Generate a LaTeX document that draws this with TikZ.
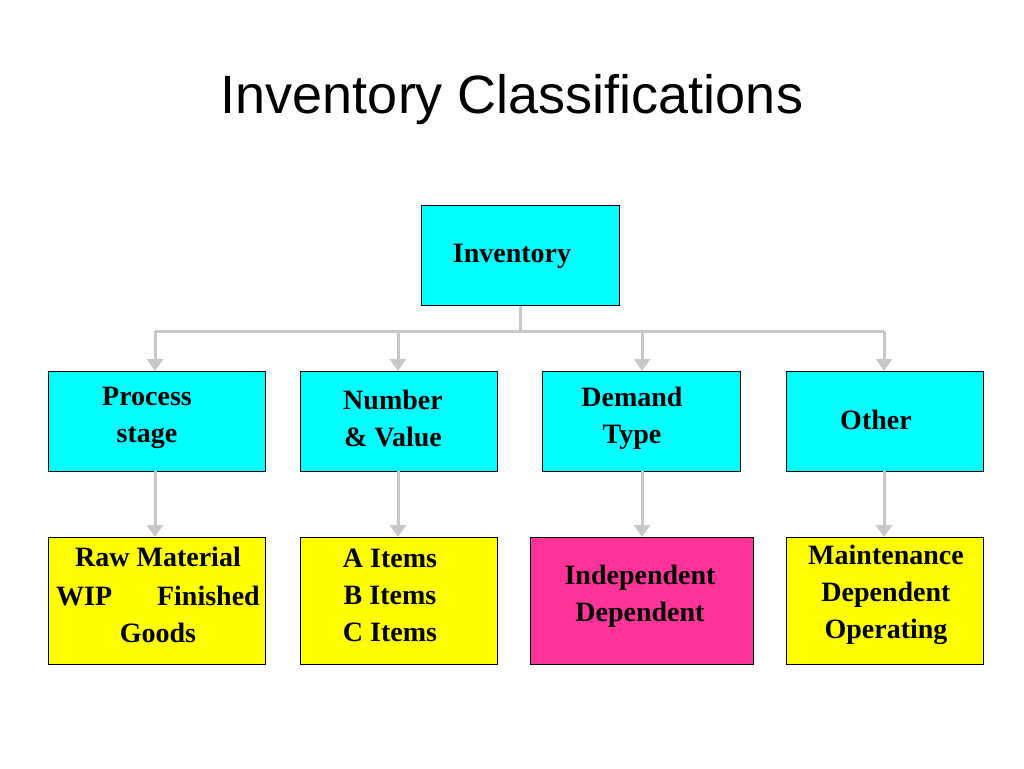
\documentclass[tikz,border=0pt]{standalone}
\usepackage{fontspec}
\setmainfont{Liberation Serif}
\newfontfamily\titlefont{Liberation Sans}
\usetikzlibrary{arrows.meta}
\definecolor{cy}{HTML}{00FFFF}
\definecolor{yl}{HTML}{FFFF00}
\definecolor{pk}{HTML}{FF3399}
\definecolor{ln}{HTML}{C8C8C8}
\begin{document}
\begin{tikzpicture}[x=1pt,y=-1pt,
  box/.style={draw=black,line width=0.8pt,anchor=north west,inner sep=0pt},
  lbl/.style={font=\fontsize{28}{37}\selectfont\bfseries,align=center,inner sep=0pt},
  conn/.style={draw=ln,line width=3pt,-{Triangle[length=12pt,width=16pt]}}]
\useasboundingbox[fill=white] (0,0) rectangle (1024,768);
\node[font=\titlefont\fontsize{54}{60}\selectfont] (title) at (512,100) {Inventory Classifications};
% boxes
\node[box,fill=cy,minimum width=198pt,minimum height=100pt] (inv) at (421,205) {};
\node[lbl] at (512,256) {Inventory};
\foreach \n/\x/\w in {a/48/217,b/300/197,c/542/198,d/786/197}{
  \node[box,fill=cy,minimum width=\w pt,minimum height=100pt] (\n) at (\x,371) {};
}
\node[box,fill=yl,minimum width=217pt,minimum height=127pt] (a2) at (48,537) {};
\node[box,fill=yl,minimum width=197pt,minimum height=127pt] (b2) at (300,537) {};
\node[box,fill=pk,minimum width=223pt,minimum height=127pt] (c2) at (530,537) {};
\node[box,fill=yl,minimum width=197pt,minimum height=127pt] (d2) at (786,537) {};
% labels
\node[lbl] at (147,418) {Process\\stage};
\node[lbl] at (393,418) {Number\\\& Value};
\node[lbl] at (632,418) {Demand\\Type};
\node[lbl] at (876,420) {Other};
\node[lbl] at (158,557) {Raw Material};
\node[lbl] at (158,596) {WIP\hspace{1.6em}Finished};
\node[lbl] at (158,633) {Goods};
\node[lbl] at (390,595) {A Items\\B Items\\C Items};
\node[lbl] at (640,596) {Independent\\Dependent};
\node[lbl] at (886,595) {Maintenance\\Dependent\\Operating};
% connectors
\coordinate (j) at (520,331);
\draw[ln,line width=3pt] (inv.south -| j) -- (j);
\draw[ln,line width=3pt] (155,331) -- (884,331);
\foreach \n/\x in {a/155,b/398,c/642,d/884}{
  \draw[conn] (\x,331) -- (\x,371);
}
\foreach \n/\x in {a/155,b/398,c/642,d/884}{
  \draw[conn] (\x,471) -- (\x,537);
}
\end{tikzpicture}
\end{document}
